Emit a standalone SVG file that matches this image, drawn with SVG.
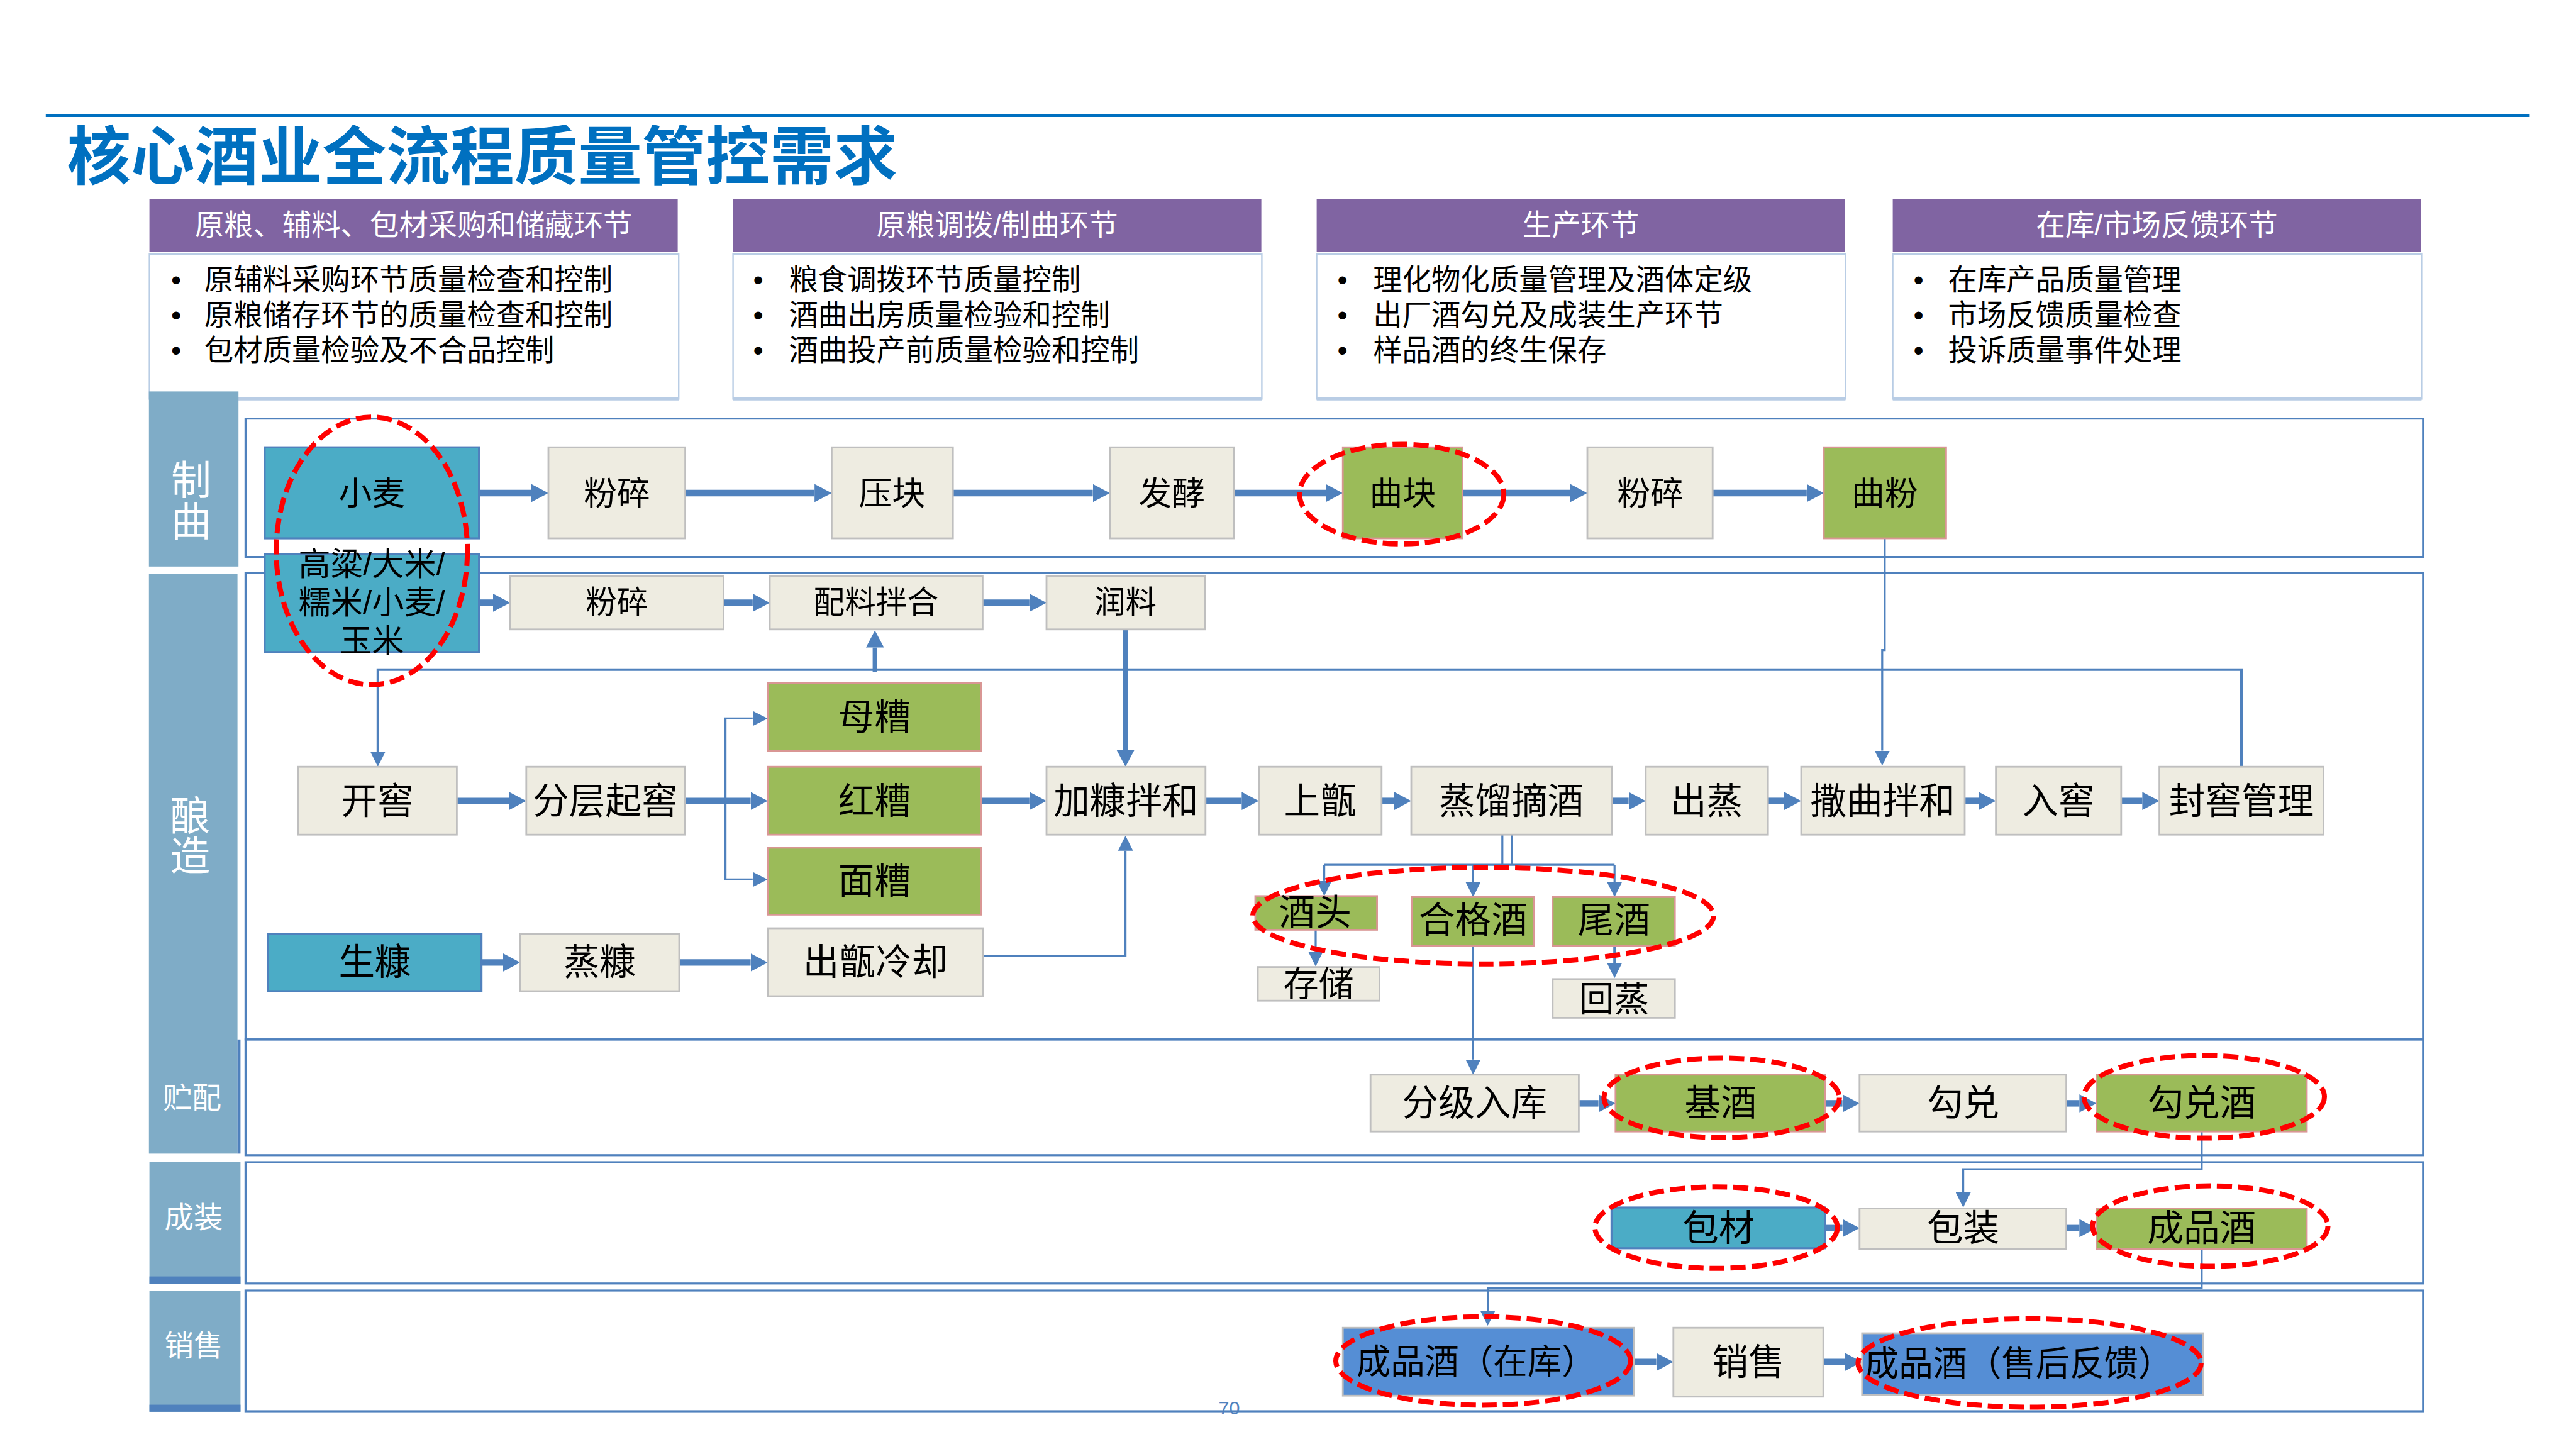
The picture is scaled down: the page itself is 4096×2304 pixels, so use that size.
<svg xmlns="http://www.w3.org/2000/svg" width="4096" height="2304" viewBox="0 0 4096 2304">
<defs>
<style>
text{font-family:"Liberation Sans","Noto Sans CJK SC",sans-serif;}
.c{text-anchor:middle;dominant-baseline:central;fill:#000;}
.w{text-anchor:middle;dominant-baseline:central;fill:#fff;}
.bl{dominant-baseline:central;fill:#000;font-size:58px;}
.hd{fill:#8064A2;}
.cb{fill:#fff;stroke:#B9CDE5;stroke-width:3;}
.cbb{stroke:#B9CDE5;stroke-width:6;}
.lane{fill:none;stroke:#4F81BD;stroke-width:4;}
.side{fill:#7FACC7;}
.sidestrip{fill:#4F81BD;}
.be{fill:#EEECE1;stroke:#BFBFBF;stroke-width:3.5;}
.bu{fill:#4BACC6;stroke:#4F81BD;stroke-width:4;}
.gr{fill:#9BBB59;stroke:#D99694;stroke-width:3.5;}
.dk{fill:#558ED5;stroke:#BFBFBF;stroke-width:3.5;}
.ta{stroke:#4F81BD;stroke-width:13;fill:none;marker-end:url(#hb);}
.tv{stroke:#4F81BD;stroke-width:9;fill:none;marker-end:url(#hb);}
.tn{stroke:#4F81BD;stroke-width:4;fill:none;marker-end:url(#hs);}
.tl{stroke:#4F81BD;stroke-width:4;fill:none;}
.el{fill:none;stroke:#FF0000;stroke-width:10;stroke-dasharray:30 12;}
</style>
<marker id="hb" markerUnits="userSpaceOnUse" markerWidth="34" markerHeight="36" refX="0" refY="18" orient="auto"><path d="M0,0 L34,18 L0,36 Z" fill="#4F81BD"/></marker>
<marker id="hs" markerUnits="userSpaceOnUse" markerWidth="30" markerHeight="30" refX="0" refY="15" orient="auto"><path d="M0,0 L30,15 L0,30 Z" fill="#4F81BD"/></marker>
</defs>
<rect width="4096" height="2304" fill="#fff"/>
<g transform="scale(0.8)">
<g id="title">
<line x1="91" y1="230" x2="5028" y2="230" stroke="#0070C0" stroke-width="5"/>
<text x="133" y="312" font-size="127" font-weight="bold" fill="#0070C0" dominant-baseline="central">核心酒业全流程质量管控需求</text>
</g>
<g id="panel1">
<rect class="hd" x="297" y="396" width="1050" height="105"/>
<text class="w" x="822" y="448" font-size="58">原粮、辅料、包材采购和储藏环节</text>
<rect class="cb" x="297" y="505" width="1052" height="288"/>
<line class="cbb" x1="297" y1="793" x2="1349" y2="793"/>
<text class="bl" x="340" y="556">•</text><text class="bl" x="406" y="556">原辅料采购环节质量检查和控制</text>
<text class="bl" x="340" y="626">•</text><text class="bl" x="406" y="626">原粮储存环节的质量检查和控制</text>
<text class="bl" x="340" y="696">•</text><text class="bl" x="406" y="696">包材质量检验及不合品控制</text>
</g>
<g id="panel2">
<rect class="hd" x="1457" y="396" width="1050" height="105"/>
<text class="w" x="1982" y="448" font-size="58">原粮调拨/制曲环节</text>
<rect class="cb" x="1457" y="505" width="1051" height="288"/>
<line class="cbb" x1="1457" y1="793" x2="2508" y2="793"/>
<text class="bl" x="1497" y="556">•</text><text class="bl" x="1568" y="556">粮食调拨环节质量控制</text>
<text class="bl" x="1497" y="626">•</text><text class="bl" x="1568" y="626">酒曲出房质量检验和控制</text>
<text class="bl" x="1497" y="696">•</text><text class="bl" x="1568" y="696">酒曲投产前质量检验和控制</text>
</g>
<g id="panel3">
<rect class="hd" x="2617" y="396" width="1050" height="105"/>
<text class="w" x="3142" y="448" font-size="58">生产环节</text>
<rect class="cb" x="2617" y="505" width="1051" height="288"/>
<line class="cbb" x1="2617" y1="793" x2="3668" y2="793"/>
<text class="bl" x="2658" y="556">•</text><text class="bl" x="2729" y="556">理化物化质量管理及酒体定级</text>
<text class="bl" x="2658" y="626">•</text><text class="bl" x="2729" y="626">出厂酒勾兑及成装生产环节</text>
<text class="bl" x="2658" y="696">•</text><text class="bl" x="2729" y="696">样品酒的终生保存</text>
</g>
<g id="panel4">
<rect class="hd" x="3762" y="396" width="1050" height="105"/>
<text class="w" x="4287" y="448" font-size="58">在库/市场反馈环节</text>
<rect class="cb" x="3762" y="505" width="1051" height="288"/>
<line class="cbb" x1="3762" y1="793" x2="4813" y2="793"/>
<text class="bl" x="3803" y="556">•</text><text class="bl" x="3872" y="556">在库产品质量管理</text>
<text class="bl" x="3803" y="626">•</text><text class="bl" x="3872" y="626">市场反馈质量检查</text>
<text class="bl" x="3803" y="696">•</text><text class="bl" x="3872" y="696">投诉质量事件处理</text>
</g>
<g id="lanes">
<rect class="lane" x="488" y="832" width="4328" height="275"/>
<rect class="lane" x="488" y="1139" width="4328" height="927"/>
<rect class="lane" x="488" y="2066" width="4328" height="230"/>
<rect class="lane" x="488" y="2310" width="4328" height="241"/>
<rect class="lane" x="488" y="2565" width="4328" height="240"/>
</g>
<g id="sidebars">
<rect class="side" x="296" y="778" width="178" height="348"/>
<text class="w" x="380" y="955" font-size="80">制</text>
<text class="w" x="380" y="1037" font-size="80">曲</text>
<rect class="side" x="296" y="1140" width="176" height="1153"/>
<rect class="sidestrip" x="472" y="2066" width="6" height="227"/>
<text class="w" x="378" y="1623" font-size="80">酿</text>
<text class="w" x="378" y="1703" font-size="80">造</text>
<text class="w" x="382" y="2182" font-size="58">贮配</text>
<rect class="side" x="297" y="2310" width="181" height="242"/>
<rect class="sidestrip" x="297" y="2537" width="181" height="15"/>
<text class="w" x="385" y="2420" font-size="58">成装</text>
<rect class="side" x="297" y="2565" width="181" height="241"/>
<rect class="sidestrip" x="297" y="2792" width="181" height="14"/>
<text class="w" x="385" y="2675" font-size="58">销售</text>
</g>
<g id="connectors">
<line class="ta" x1="952" y1="980" x2="1056" y2="980"/>
<line class="ta" x1="1362" y1="980" x2="1619" y2="980"/>
<line class="ta" x1="1894" y1="980" x2="2172" y2="980"/>
<line class="ta" x1="2452" y1="980" x2="2635" y2="980"/>
<line class="ta" x1="2907" y1="980" x2="3121" y2="980"/>
<line class="ta" x1="3404" y1="980" x2="3591" y2="980"/>
<line class="ta" x1="952" y1="1198" x2="980" y2="1198"/>
<line class="ta" x1="1438" y1="1198" x2="1496" y2="1198"/>
<line class="ta" x1="1953" y1="1198" x2="2046" y2="1198"/>
<line class="ta" x1="908" y1="1592" x2="1012" y2="1592"/>
<line class="ta" x1="1361" y1="1592" x2="1492" y2="1592"/>
<line class="ta" x1="1950" y1="1592" x2="2046" y2="1592"/>
<line class="ta" x1="2396" y1="1592" x2="2468" y2="1592"/>
<line class="ta" x1="2746" y1="1592" x2="2771" y2="1592"/>
<line class="ta" x1="3204" y1="1592" x2="3237" y2="1592"/>
<line class="ta" x1="3514" y1="1592" x2="3546" y2="1592"/>
<line class="ta" x1="3905" y1="1592" x2="3933" y2="1592"/>
<line class="ta" x1="4216" y1="1592" x2="4258" y2="1592"/>
<line class="ta" x1="957" y1="1913" x2="1000" y2="1913"/>
<line class="ta" x1="1350" y1="1913" x2="1492" y2="1913"/>
<line class="ta" x1="3138" y1="2193" x2="3177" y2="2193"/>
<line class="ta" x1="3628" y1="2193" x2="3662" y2="2193"/>
<line class="ta" x1="4107" y1="2193" x2="4133" y2="2193"/>
<line class="ta" x1="3628" y1="2441" x2="3662" y2="2441"/>
<line class="ta" x1="4107" y1="2441" x2="4133" y2="2441"/>
<line class="ta" x1="3248" y1="2707" x2="3292" y2="2707"/>
<line class="ta" x1="3624" y1="2707" x2="3667" y2="2707"/>
<path class="tv" d="M1739,1335 V1287"/>
<path class="tv" d="M2237,1251 V1490" style="stroke-width:10"/>
<path class="tn" d="M3746,1070 V1292 H3741 V1492"/>
<path class="tn" d="M4455,1524 V1331 H751 V1494" style="stroke-width:5"/>
<path class="tn" d="M1442,1592 V1428 H1496"/>
<path class="tn" d="M1442,1592 V1748 H1496"/>
<path class="tn" d="M1954,1900 H2237 V1691"/>
<path class="tl" d="M2986,1659 V1719 M3005,1659 V1719 M2632,1719 H3209"/>
<path class="tn" d="M2632,1719 V1751"/>
<path class="tn" d="M2928,1719 V1753"/>
<path class="tn" d="M3209,1719 V1753"/>
<path class="tn" d="M2615,1848 V1891"/>
<path class="tn" d="M3209,1880 V1914" style="stroke-width:5"/>
<path class="tn" d="M2928,1880 V2106"/>
<path class="tn" d="M4376,2249 V2324 H3902 V2370"/>
<path class="tn" d="M4376,2483 V2560 H2957 V2605"/>
</g>
<g id="n-xiaomai"><rect class="bu" x="526" y="889" width="426" height="181"/><text class="c" x="739" y="980" font-size="66">小麦</text></g>
<g id="n-fensui1"><rect class="be" x="1090" y="889" width="272" height="181"/><text class="c" x="1226" y="980" font-size="66">粉碎</text></g>
<g id="n-yakuai"><rect class="be" x="1653" y="889" width="241" height="181"/><text class="c" x="1773" y="980" font-size="66">压块</text></g>
<g id="n-fajiao"><rect class="be" x="2206" y="889" width="246" height="181"/><text class="c" x="2329" y="980" font-size="66">发酵</text></g>
<g id="n-qukuai"><rect class="gr" x="2669" y="889" width="238" height="181"/><text class="c" x="2788" y="980" font-size="66">曲块</text></g>
<g id="n-fensui2"><rect class="be" x="3155" y="889" width="249" height="181"/><text class="c" x="3280" y="980" font-size="66">粉碎</text></g>
<g id="n-qufen"><rect class="gr" x="3625" y="889" width="243" height="181"/><text class="c" x="3746" y="980" font-size="66">曲粉</text></g>
<g id="n-gaoliang"><rect class="bu" x="526" y="1101" width="426" height="195"/>
<text class="c" x="739" y="1122" font-size="64">高粱/大米/</text>
<text class="c" x="739" y="1198" font-size="64">糯米/小麦/</text>
<text class="c" x="739" y="1274" font-size="64">玉米</text></g>
<g id="n-fensui3"><rect class="be" x="1014" y="1145" width="424" height="106"/><text class="c" x="1226" y="1198" font-size="62">粉碎</text></g>
<g id="n-peiliao"><rect class="be" x="1530" y="1145" width="423" height="106"/><text class="c" x="1741" y="1198" font-size="62">配料拌合</text></g>
<g id="n-runliao"><rect class="be" x="2080" y="1145" width="315" height="106"/><text class="c" x="2237" y="1198" font-size="62">润料</text></g>
<g id="n-kaijiao"><rect class="be" x="592" y="1524" width="316" height="135"/><text class="c" x="750" y="1592" font-size="72">开窖</text></g>
<g id="n-fenceng"><rect class="be" x="1046" y="1524" width="315" height="135"/><text class="c" x="1203" y="1592" font-size="72">分层起窖</text></g>
<g id="n-muzao"><rect class="gr" x="1526" y="1358" width="424" height="135"/><text class="c" x="1738" y="1425" font-size="72">母糟</text></g>
<g id="n-hongzao"><rect class="gr" x="1526" y="1524" width="424" height="135"/><text class="c" x="1738" y="1592" font-size="72">红糟</text></g>
<g id="n-mianzao"><rect class="gr" x="1526" y="1685" width="424" height="133"/><text class="c" x="1738" y="1751" font-size="72">面糟</text></g>
<g id="n-jiakang"><rect class="be" x="2080" y="1524" width="316" height="135"/><text class="c" x="2238" y="1592" font-size="72">加糠拌和</text></g>
<g id="n-shangzeng"><rect class="be" x="2502" y="1524" width="244" height="135"/><text class="c" x="2624" y="1592" font-size="72">上甑</text></g>
<g id="n-zhengliu"><rect class="be" x="2805" y="1524" width="399" height="135"/><text class="c" x="3004" y="1592" font-size="72">蒸馏摘酒</text></g>
<g id="n-chuzheng"><rect class="be" x="3271" y="1524" width="243" height="135"/><text class="c" x="3392" y="1592" font-size="72">出蒸</text></g>
<g id="n-sachu"><rect class="be" x="3580" y="1524" width="325" height="135"/><text class="c" x="3742" y="1592" font-size="72">撒曲拌和</text></g>
<g id="n-rujiao"><rect class="be" x="3967" y="1524" width="249" height="135"/><text class="c" x="4091" y="1592" font-size="72">入窖</text></g>
<g id="n-fengjiao"><rect class="be" x="4292" y="1524" width="326" height="135"/><text class="c" x="4455" y="1592" font-size="72">封窖管理</text></g>
<g id="n-shengkang"><rect class="bu" x="533" y="1856" width="424" height="114"/><text class="c" x="745" y="1913" font-size="72">生糠</text></g>
<g id="n-zhengkang"><rect class="be" x="1034" y="1856" width="316" height="114"/><text class="c" x="1192" y="1913" font-size="72">蒸糠</text></g>
<g id="n-chuzengl"><rect class="be" x="1526" y="1845" width="428" height="135"/><text class="c" x="1740" y="1913" font-size="72">出甑冷却</text></g>
<g id="n-jiutou"><rect class="gr" x="2495" y="1781" width="242" height="67"/><text class="c" x="2614" y="1814" font-size="72">酒头</text></g>
<g id="n-hegejiu"><rect class="gr" x="2806" y="1783" width="243" height="97"/><text class="c" x="2928" y="1829" font-size="72">合格酒</text></g>
<g id="n-weijiu"><rect class="gr" x="3086" y="1783" width="243" height="97"/><text class="c" x="3208" y="1829" font-size="72">尾酒</text></g>
<g id="n-cunchu"><rect class="be" x="2500" y="1922" width="242" height="67"/><text class="c" x="2621" y="1955" font-size="70">存储</text></g>
<g id="n-huizheng"><rect class="be" x="3086" y="1946" width="243" height="77"/><text class="c" x="3208" y="1985" font-size="70">回蒸</text></g>
<g id="n-fenji"><rect class="be" x="2724" y="2136" width="414" height="113"/><text class="c" x="2931" y="2193" font-size="72">分级入库</text></g>
<g id="n-jijiu"><rect class="gr" x="3211" y="2136" width="417" height="113"/><text class="c" x="3420" y="2193" font-size="72">基酒</text></g>
<g id="n-goudui"><rect class="be" x="3696" y="2136" width="411" height="113"/><text class="c" x="3902" y="2193" font-size="72">勾兑</text></g>
<g id="n-gouduijiu"><rect class="gr" x="4167" y="2136" width="418" height="113"/><text class="c" x="4376" y="2193" font-size="72">勾兑酒</text></g>
<g id="n-baocai"><rect class="bu" x="3203" y="2400" width="425" height="81"/><text class="c" x="3416" y="2441" font-size="72">包材</text></g>
<g id="n-baozhuang"><rect class="be" x="3696" y="2402" width="411" height="81"/><text class="c" x="3902" y="2441" font-size="72">包装</text></g>
<g id="n-chengpin"><rect class="gr" x="4167" y="2402" width="418" height="81"/><text class="c" x="4376" y="2441" font-size="72">成品酒</text></g>
<g id="n-zaiku"><rect class="dk" x="2669" y="2639" width="579" height="135"/><text x="2696" y="2707" font-size="68" dominant-baseline="central">成品酒（在库）</text></g>
<g id="n-xiaoshou"><rect class="be" x="3326" y="2639" width="298" height="137"/><text class="c" x="3475" y="2707" font-size="72">销售</text></g>
<g id="n-shouhou"><rect class="dk" x="3701" y="2650" width="678" height="123"/><text x="3706" y="2711" font-size="68" dominant-baseline="central">成品酒（售后反馈）</text></g>
<g id="highlights">
<ellipse class="el" cx="739" cy="1095" rx="190" ry="266"/>
<ellipse class="el" cx="2786" cy="982" rx="203" ry="99"/>
<ellipse class="el" cx="2948" cy="1820" rx="458" ry="96"/>
<ellipse class="el" cx="3422" cy="2182" rx="234" ry="79"/>
<ellipse class="el" cx="4381" cy="2180" rx="239" ry="82"/>
<ellipse class="el" cx="3411" cy="2440" rx="241" ry="81"/>
<ellipse class="el" cx="4393" cy="2437" rx="234" ry="80"/>
<ellipse class="el" cx="2948" cy="2705" rx="293" ry="88"/>
<ellipse class="el" cx="4034" cy="2709" rx="341" ry="88"/>
</g>
<text x="2443" y="2798" font-size="38" fill="#4F81BD" text-anchor="middle" dominant-baseline="central">70</text>
</g>
</svg>
